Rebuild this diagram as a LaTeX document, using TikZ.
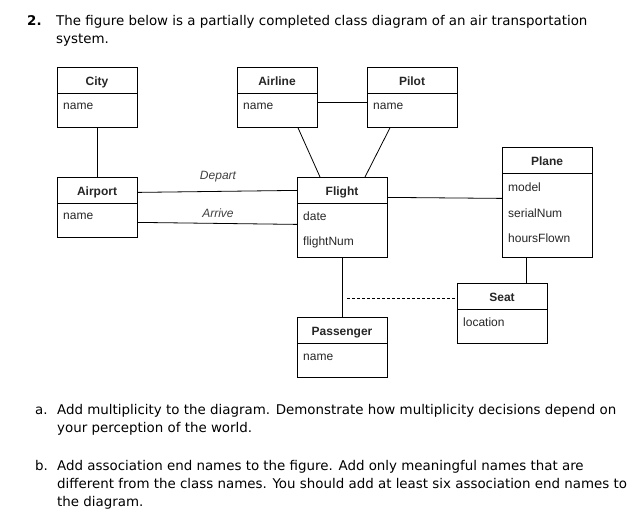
\documentclass[tikz,border=0pt]{standalone}
\usepackage{fontspec}
\setmainfont{DejaVu Sans}
\newfontfamily\arial{Liberation Sans}
\begin{document}
\begin{tikzpicture}[x=1pt, y=-1pt,
    cls/.style={draw, line width=0.8pt, anchor=north west, inner sep=0pt},
    head/.style={font=\arial\bfseries\fontsize{12}{14}\selectfont, text=black!85, text height=9pt, text depth=0pt},
    attr/.style={font=\arial\fontsize{12}{14}\selectfont, anchor=west, text=black!85, inner sep=0pt},
    role/.style={font=\arial\itshape\fontsize{12}{14}\selectfont, text=black!75},
    para/.style={font=\fontsize{13.4}{16}\selectfont, anchor=base west, inner sep=0pt},
    assoc/.style={line width=0.8pt}]
    \useasboundingbox (0, 0) rectangle (644, 521);
    % question text
    \node[para] (qnum) at (27, 26) {\bfseries 2.};
    \node[para] (q1) at (56, 26) {The figure below is a partially completed class diagram of an air transportation};
    \node[para] (q2) at (56, 44) {system.};
    % classes
    \node[cls, minimum width=80, minimum height=60] (city) at (57, 67) {};
    \draw[assoc] (57, 93) -- (137, 93);
    \node[head] (cityname) at (97, 81) {City};
    \node[attr] (cityattr) at (63, 106) {name};
    \node[cls, minimum width=80, minimum height=60] (airline) at (237, 67) {};
    \draw[assoc] (237, 93) -- (317, 93);
    \node[head] (airlinename) at (277, 81) {Airline};
    \node[attr] (airlineattr) at (243, 106) {name};
    \node[cls, minimum width=90, minimum height=60] (pilot) at (367, 67) {};
    \draw[assoc] (367, 93) -- (457, 93);
    \node[head] (pilotname) at (412, 81) {Pilot};
    \node[attr] (pilotattr) at (373, 106) {name};
    \node[cls, minimum width=80, minimum height=60] (airport) at (57, 177) {};
    \draw[assoc] (57, 203) -- (137, 203);
    \node[head] (airportname) at (97, 191) {Airport};
    \node[attr] (airportattr) at (63, 216) {name};
    \node[cls, minimum width=90, minimum height=80] (flight) at (297, 177) {};
    \draw[assoc] (297, 203) -- (387, 203);
    \node[head] (flightname) at (342, 191) {Flight};
    \node[attr] (flightdate) at (303, 216) {date};
    \node[attr] (flightnum) at (303, 242) {flightNum};
    \node[cls, minimum width=90, minimum height=110] (plane) at (502, 147) {};
    \draw[assoc] (502, 173) -- (592, 173);
    \node[head] (planename) at (547, 161) {Plane};
    \node[attr] (planemodel) at (508, 187) {model};
    \node[attr] (planeserial) at (508, 213) {serialNum};
    \node[attr] (planehours) at (508, 238) {hoursFlown};
    \node[cls, minimum width=90, minimum height=60] (seat) at (457, 283) {};
    \draw[assoc] (457, 309) -- (547, 309);
    \node[head] (seatname) at (502, 297) {Seat};
    \node[attr] (seatattr) at (463, 322) {location};
    \node[cls, minimum width=90, minimum height=60] (passenger) at (297, 317) {};
    \draw[assoc] (297, 343) -- (387, 343);
    \node[head] (passengername) at (342, 331) {Passenger};
    \node[attr] (passengerattr) at (303, 357) {name};
    % associations
    \draw[assoc] (city.south) -- (airport.north);
    \draw[assoc] ([yshift=-5]airline.east) -- ([yshift=-5]pilot.west);
    \draw[assoc] ([xshift=61]airline.south west) -- ([xshift=23]flight.north west);
    \draw[assoc] ([xshift=23]pilot.south west) -- ([xshift=68]flight.north west);
    \draw[assoc] ([yshift=15]airport.east) -- ([yshift=27]flight.west);
    \draw[assoc] ([yshift=-15]airport.east) -- ([yshift=-7]flight.west);
    \node[role] (depart) at (218, 177) {Depart};
    \node[role] (arrive) at (218, 213) {Arrive};
    \draw[assoc] ([yshift=20]flight.east) -- ([yshift=4]plane.west);
    \draw[assoc] ([xshift=24]plane.south west) -- ([xshift=69]seat.north west);
    \draw[assoc] (flight.south) -- (passenger.north);
    \coordinate (dashstart) at (347, 298);
    \draw[assoc, dashed, dash pattern=on 3pt off 2pt] (dashstart) -- (dashstart -| seat.west);
    % tasks
    \node[para] (ta) at (35, 414) {a.};
    \node[para] (ta1) at (57, 414) {Add multiplicity to the diagram. Demonstrate how multiplicity decisions depend on};
    \node[para] (ta2) at (57, 432) {your perception of the world.};
    \node[para] (tb) at (35, 470) {b.};
    \node[para] (tb1) at (57, 470) {Add association end names to the figure. Add only meaningful names that are};
    \node[para] (tb2) at (57, 488) {different from the class names. You should add at least six association end names to};
    \node[para] (tb3) at (57, 506) {the diagram.};
\end{tikzpicture}
\end{document}
